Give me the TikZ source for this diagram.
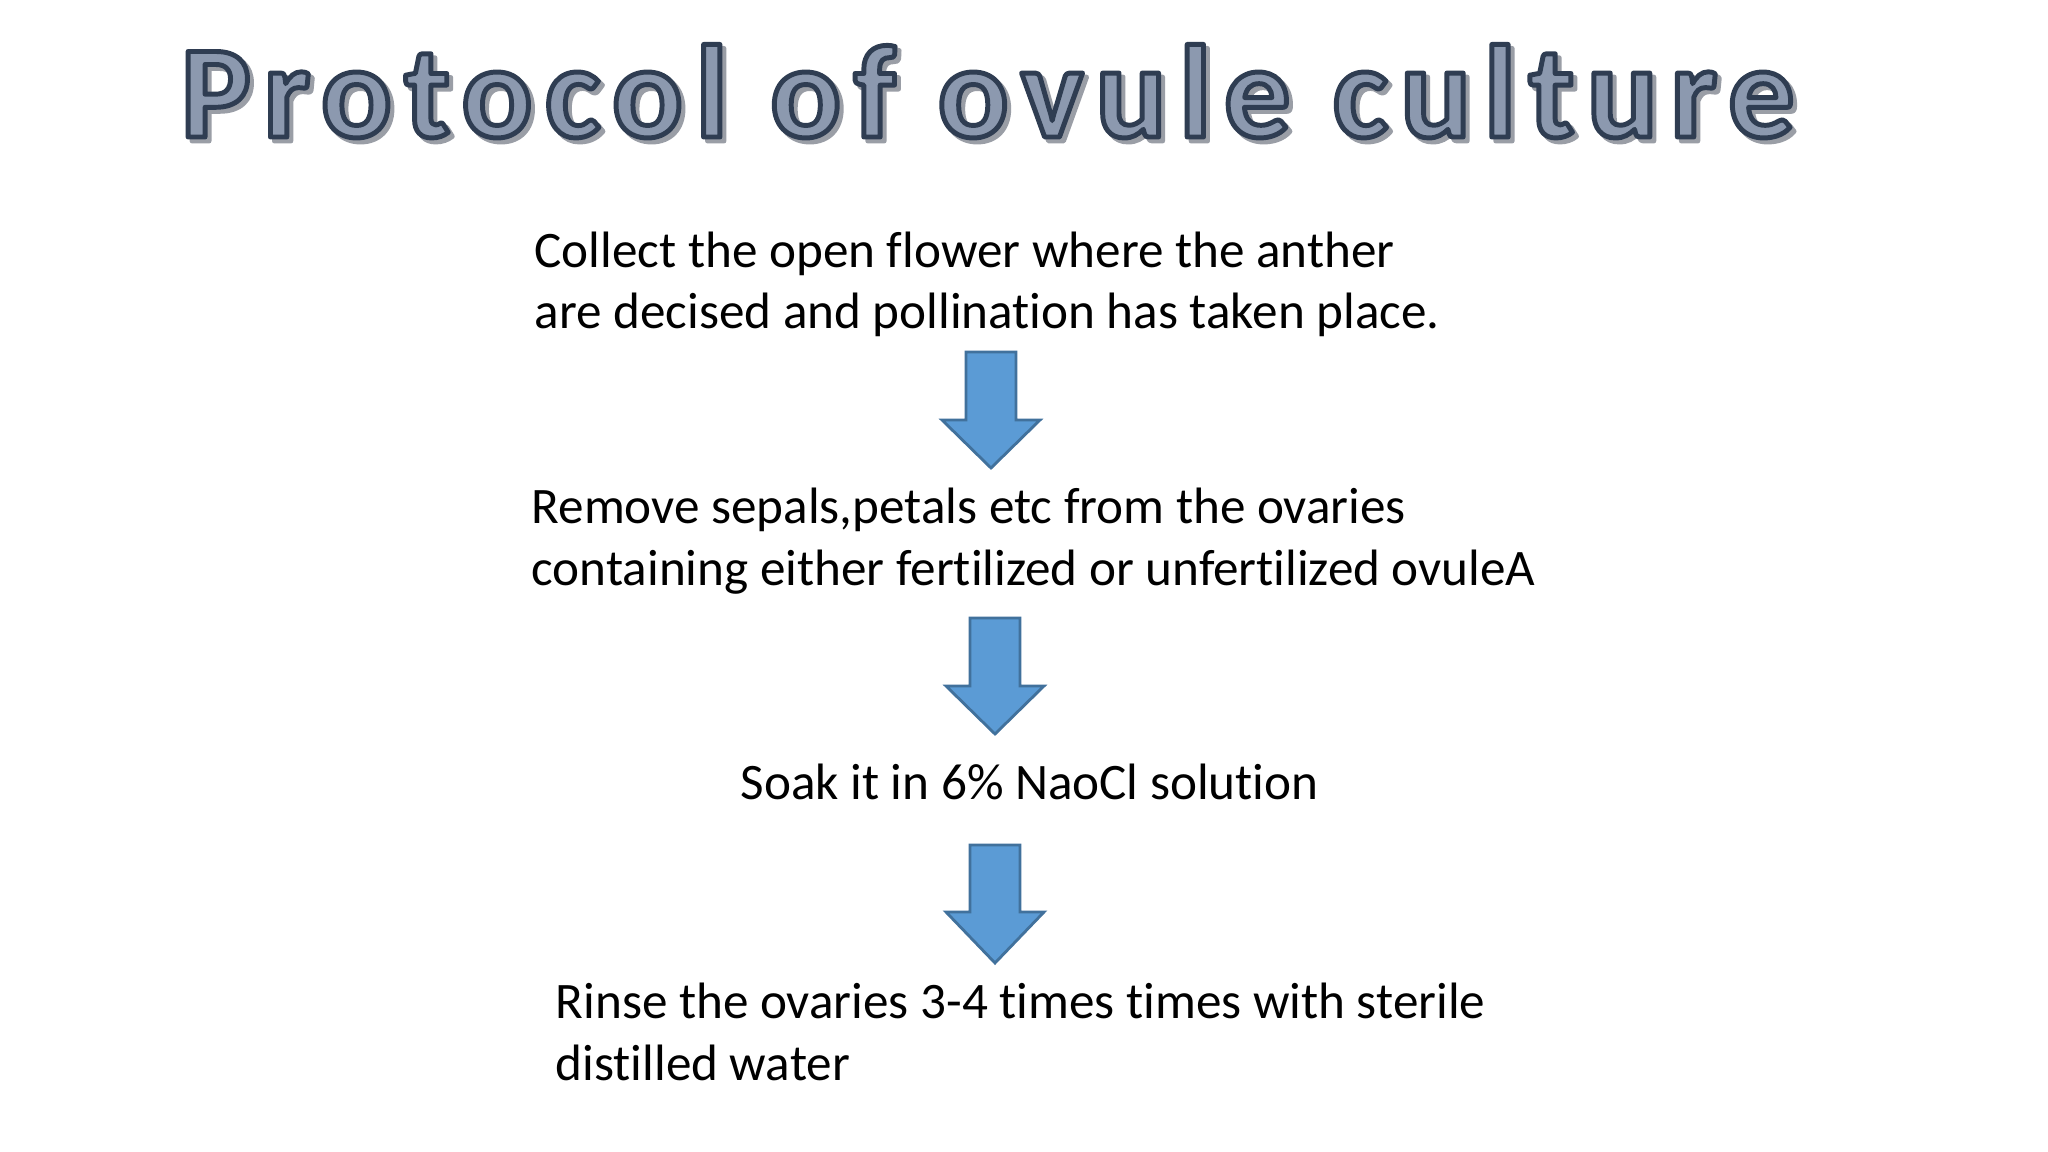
\documentclass[tikz,border=0pt]{standalone}
\usepackage{fontspec}
\setmainfont{Carlito}[Ligatures=NoCommon]
\newfontfamily\titlefont[LetterSpace=9.5,Ligatures=NoCommon]{Carlito}
\usetikzlibrary{positioning}
\definecolor{arrowfill}{HTML}{5B9BD5}
\definecolor{arrowline}{HTML}{41719C}
\definecolor{titlefill}{HTML}{8C99AF}
\definecolor{titleline}{HTML}{2F3D52}
\definecolor{titleshadow}{HTML}{9A9EA6}
\tikzset{
  stepline/.style={anchor=base west, align=left, inner sep=0pt, font=\fontsize{14.55pt}{17.4pt}\selectfont, text=black},
  downarrow/.style={fill=arrowfill, draw=arrowline, line width=0.8pt, line join=miter},
  titletext/.style={inner sep=0pt, anchor=base west, font=\titlefont\bfseries\fontsize{37.5pt}{40pt}\selectfont}
}
\newcommand{\blockarrow}[5]{% name, cx, top, wingy, tip
  \draw[downarrow] (#2-25,#3) -- (#2+25,#3) -- (#2+25,#4) -- (#2+49,#4) -- (#2+0,#5) -- (#2-49,#4) -- (#2-25,#4) -- cycle;
  \coordinate (#1) at (#2,#3);
}
\begin{document}
\begin{tikzpicture}[x=0.01cm,y=-0.01cm]
\useasboundingbox[fill=white] (0,0) rectangle (2048,1152);
% title shadow
\node[titletext, text=titleshadow] (titleshade) at (184,141) {\special{pdf:code q 2 Tr 1.4 w 1 j 0.604 0.620 0.651 RG}Protocol of ovule culture\special{pdf:code Q}};
% title: filled and outlined text (render mode 2)
\node[titletext, text=titlefill] (title) at (180,137) {\special{pdf:code q 2 Tr 1.4 w 1 j 0.184 0.239 0.322 RG}Protocol of ovule culture\special{pdf:code Q}};

\node[stepline] (s1) at (534,329) {Collect the open flower where the anther\\are decised and pollination has taken place.};
\node[stepline] (s2) at (531,585) {Remove sepals,petals etc from the ovaries\\containing either fertilized or unfertilized ovuleA};
\node[stepline] (s3) at (740,799) {Soak it in 6\% NaoCl solution};
\node[stepline] (s4) at (555,1080) {Rinse the ovaries 3-4 times times with sterile\\distilled water};

\blockarrow{a1}{991}{352}{420}{468}
\blockarrow{a2}{995}{618}{686}{734}
\blockarrow{a3}{995}{845}{912}{963}
\end{tikzpicture}
\end{document}
